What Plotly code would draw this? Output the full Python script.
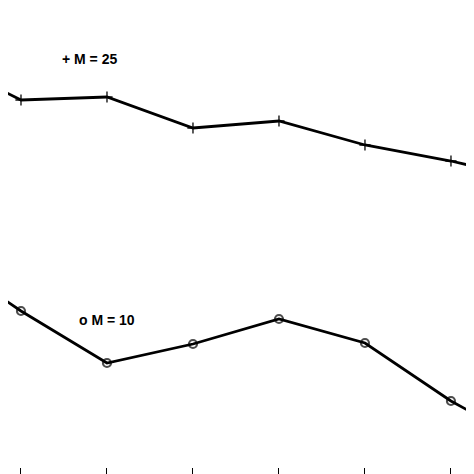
import plotly.graph_objects as go

# x positions (first/last points lie outside the visible window)
x = [0, 1, 2, 3, 4, 5, 6, 7]
m25 = [56, 99, 96, 127, 120, 144, 160, 180]
m10 = [251, 310, 362, 343, 318, 342, 400, 447]
sizes = [0, 8, 8, 8, 8, 8, 8, 0]

fig = go.Figure()
fig.add_trace(go.Scatter(x=x, y=m25, mode="lines+markers",
    line=dict(color="black", width=2.8),
    marker=dict(symbol="cross-thin", size=sizes, line=dict(color="black", width=1.8))))
fig.add_trace(go.Scatter(x=x, y=m10, mode="lines+markers",
    line=dict(color="black", width=2.8),
    marker=dict(symbol="circle-open", size=sizes, line=dict(color="black", width=2.2))))

fig.add_annotation(x=1.8, y=58, text="<b>+ M = 25</b>", showarrow=False,
                   font=dict(family="Liberation Sans", size=14, color="black"))
fig.add_annotation(x=2.0, y=319, text="<b>o M = 10</b>", showarrow=False,
                   font=dict(family="Liberation Sans", size=14, color="black"))

fig.update_layout(
    width=474, height=474, margin=dict(l=0, r=0, t=0, b=0),
    plot_bgcolor="white", paper_bgcolor="white", showlegend=False,
    xaxis=dict(range=[0.849, 6.361], tickvals=[1, 2, 3, 4, 5, 6], ticks="inside",
               ticklen=14, tickcolor="black", tickwidth=1, showticklabels=False,
               showgrid=False, zeroline=False, showline=False),
    yaxis=dict(range=[481, 7], showticklabels=False, showgrid=False,
               zeroline=False, showline=False, ticks=""),
)
fig.write_html("out.html")
